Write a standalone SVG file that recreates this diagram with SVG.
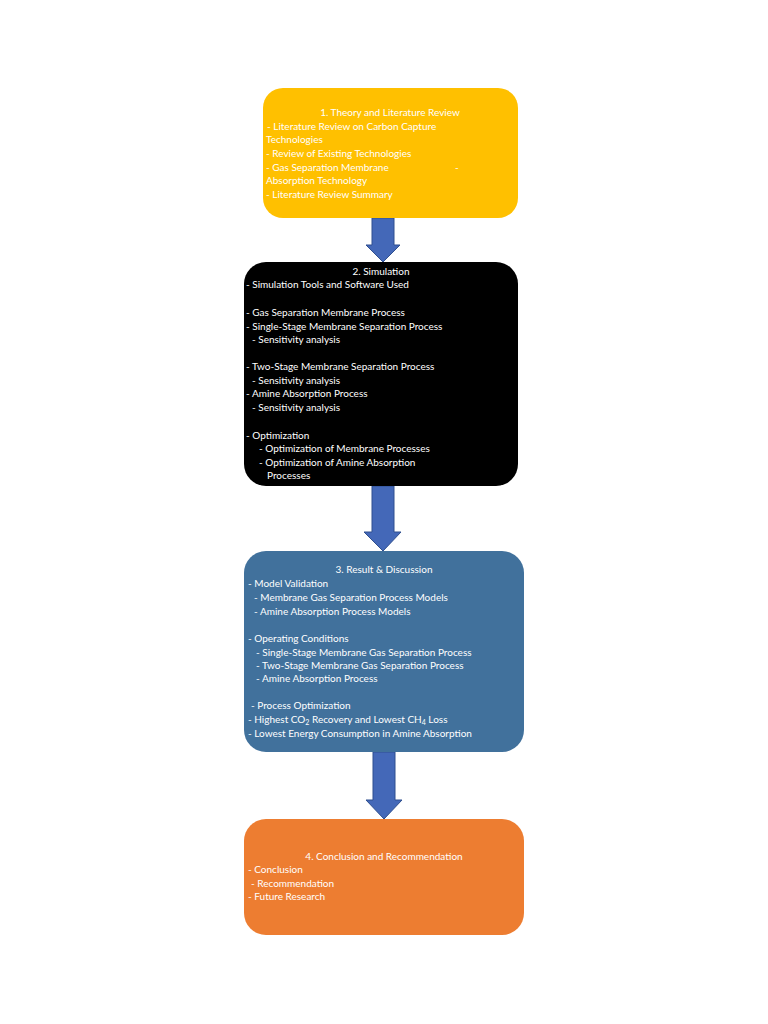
<svg xmlns="http://www.w3.org/2000/svg" width="768" height="1024" viewBox="0 0 768 1024">
<style>
text{font-family:Lato,"Liberation Sans",sans-serif;font-size:10px;fill:#fff}
.arr{fill:#4468B8;stroke:#2F4F8F;stroke-width:1}
</style>
<rect width="768" height="1024" fill="#fff"/>
<g id="connectors">
<path class="arr" d="M372,218 H394 V245 H400 L383,262 L366,245 H372 Z"/>
<path class="arr" d="M372,486 H394 V532 H401 L383,551 L364,532 H372 Z"/>
<path class="arr" d="M373,752 H395 V800 H402 L384,819 L366,800 H373 Z"/>
</g>
<g id="n1">
<rect x="263" y="88" width="255" height="130" rx="20" fill="#FFC000"/>
<text x="390" y="116" text-anchor="middle">1. Theory and Literature Review</text>
<text x="267" y="130"> - Literature Review on Carbon Capture</text>
<text x="266" y="143">Technologies</text>
<text x="266" y="157">- Review of Existing Technologies</text>
<text x="266" y="171">- Gas Separation Membrane</text>
<text x="455" y="171">-</text>
<text x="266" y="184">Absorption Technology</text>
<text x="266" y="198">- Literature Review Summary</text>
</g>
<g id="n2">
<rect x="244" y="262" width="274" height="224" rx="22" fill="#000"/>
<text x="381" y="275" text-anchor="middle">2. Simulation</text>
<text x="246" y="288">- Simulation Tools and Software Used</text>
<text x="246" y="316">- Gas Separation Membrane Process</text>
<text x="246" y="330">- Single-Stage Membrane Separation Process</text>
<text x="252" y="343">- Sensitivity analysis</text>
<text x="246" y="370">- Two-Stage Membrane Separation Process</text>
<text x="252" y="384">- Sensitivity analysis</text>
<text x="246" y="397">- Amine Absorption Process</text>
<text x="252" y="411">- Sensitivity analysis</text>
<text x="246" y="439">- Optimization</text>
<text x="259" y="452">- Optimization of Membrane Processes</text>
<text x="259" y="466">- Optimization of Amine Absorption</text>
<text x="267" y="479">Processes</text>
</g>
<g id="n3">
<rect x="244" y="551" width="280" height="201" rx="22" fill="#41719C"/>
<text x="384" y="573" text-anchor="middle">3. Result &amp; Discussion</text>
<text x="248" y="587">- Model Validation</text>
<text x="254" y="601">- Membrane Gas Separation Process Models</text>
<text x="254" y="615">- Amine Absorption Process Models</text>
<text x="248" y="642">- Operating Conditions</text>
<text x="256" y="656">- Single-Stage Membrane Gas Separation Process</text>
<text x="256" y="669">- Two-Stage Membrane Gas Separation Process</text>
<text x="256" y="682">- Amine Absorption Process</text>
<text x="251" y="709">- Process Optimization</text>
<text x="248" y="723">- Highest CO<tspan font-size="7" dy="2">2</tspan><tspan dy="-2"> Recovery and Lowest CH</tspan><tspan font-size="7" dy="2">4</tspan><tspan dy="-2"> Loss</tspan></text>
<text x="248" y="737">- Lowest Energy Consumption in Amine Absorption</text>
</g>
<g id="n4">
<rect x="244" y="819" width="280" height="116" rx="22" fill="#ED7D31"/>
<text x="384" y="860" text-anchor="middle">4. Conclusion and Recommendation</text>
<text x="248" y="873">- Conclusion</text>
<text x="251" y="887"> - Recommendation</text>
<text x="248" y="900">- Future Research</text>
</g>
</svg>
